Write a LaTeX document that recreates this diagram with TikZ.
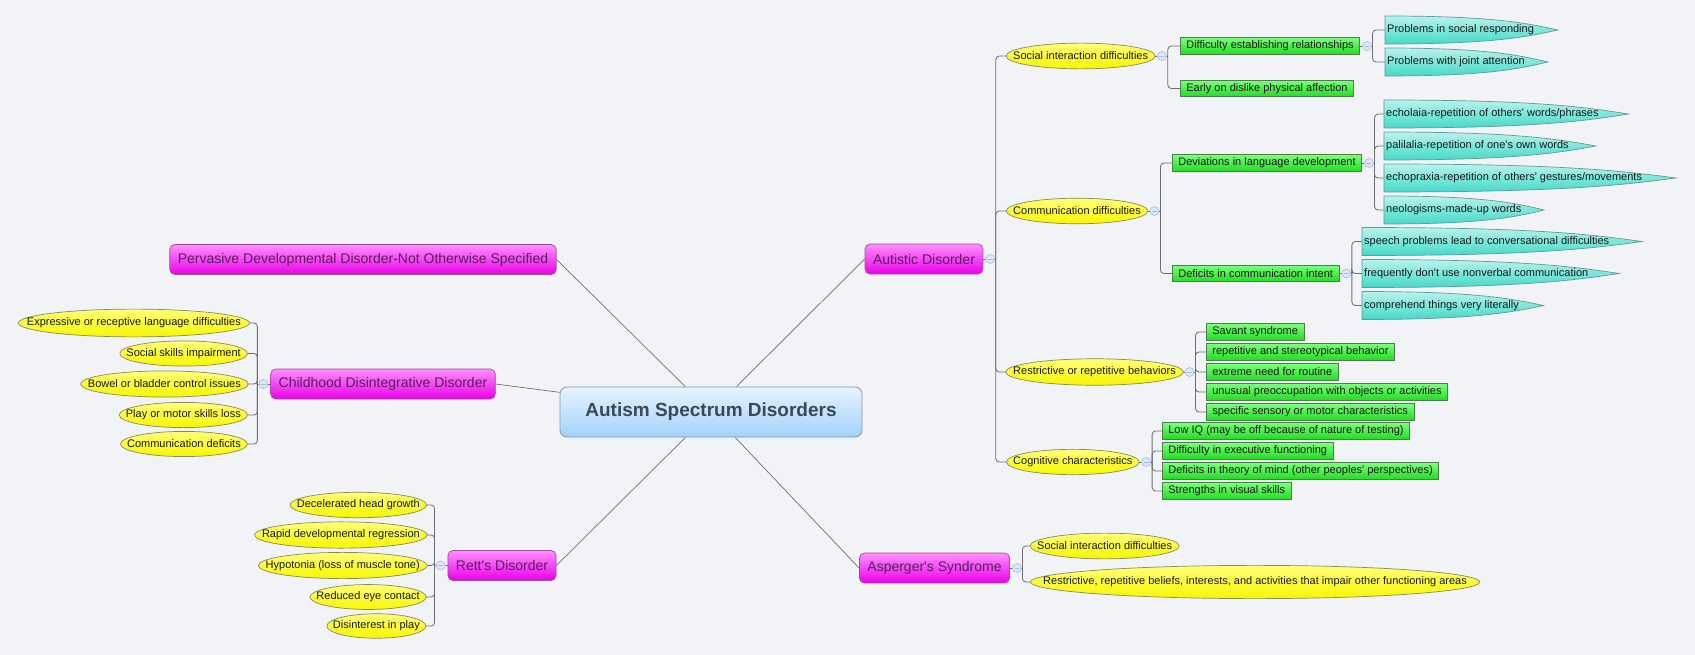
\documentclass[tikz,border=0pt]{standalone}
\usepackage{fontspec}
\setmainfont{Liberation Sans}
\usetikzlibrary{backgrounds,calc}

\definecolor{paper}{HTML}{F2F3F7}
\definecolor{wire}{HTML}{6E6E6E}
\definecolor{hubtop}{HTML}{E6F3FF}
\definecolor{hubbot}{HTML}{A3D2FA}
\definecolor{hubline}{HTML}{8796A6}
\definecolor{hubtext}{HTML}{3B4856}
\definecolor{pinktop}{HTML}{FF8FFF}
\definecolor{pinkbot}{HTML}{E800E8}
\definecolor{pinkline}{HTML}{9C4C9C}
\definecolor{pinktext}{HTML}{5A1E5C}
\definecolor{lemontop}{HTML}{FFFF7A}
\definecolor{lemonbot}{HTML}{F6F600}
\definecolor{lemonline}{HTML}{8A8A58}
\definecolor{limetop}{HTML}{7CFF7C}
\definecolor{limebot}{HTML}{20DC20}
\definecolor{limeline}{HTML}{4E7E4E}
\definecolor{aquatop}{HTML}{B8F3EC}
\definecolor{aquabot}{HTML}{44D9C8}
\definecolor{aqualine}{HTML}{5F9A95}
\definecolor{knobfill}{HTML}{DDE8F7}
\definecolor{knobline}{HTML}{A3BBDF}

\newcommand{\apos}{\textquotesingle}

\tikzset{
  hub/.style={draw=hubline, line width=0.8pt, rounded corners=7pt, top color=hubtop, bottom color=hubbot,
    minimum width=302pt, minimum height=50pt, font=\fontsize{19}{22}\selectfont\bfseries, text=hubtext},
  topic/.style={draw=pinkline, line width=0.7pt, rounded corners=5pt, top color=pinktop, bottom color=pinkbot,
    minimum height=30pt, inner xsep=8pt, font=\fontsize{14}{16}\selectfont, text=pinktext},
  oval/.style={inner xsep=4pt, inner ysep=2pt, font=\fontsize{11}{13}\selectfont, text=black!90},
  tag/.style={draw=limeline, line width=0.7pt, top color=limetop, bottom color=limebot,
    minimum height=16.5pt, inner xsep=6pt, inner ysep=1pt, font=\fontsize{11}{13}\selectfont, text=black!90},
  flag/.style={inner xsep=2pt, inner ysep=1pt, font=\fontsize{11}{13}\selectfont, text=black!90},
  ovalfill/.style={draw=lemonline, line width=0.7pt, top color=lemontop, bottom color=lemonbot},
  flagfill/.style={draw=aqualine, line width=0.7pt, top color=aquatop, bottom color=aquabot},
  knob/.style={circle, draw=knobline, fill=knobfill, line width=0.6pt, minimum size=9pt, inner sep=0pt,
    path picture={\draw[knobline, line width=0.8pt] ([xshift=-2.4pt]path picture bounding box.center)
      -- ([xshift=2.4pt]path picture bounding box.center);}},
  branch/.style={draw=wire, line width=0.8pt, rounded corners=3.5pt},
  spoke/.style={draw=wire, line width=0.7pt},
}

\begin{document}
\begin{tikzpicture}[x=1pt, y=-1pt]
    \useasboundingbox (0,0) rectangle (1695,655);

    % Central topic
    \node[hub] (asd) at (711,412) {Autism Spectrum Disorders};

    % Main topics
    \node[topic] (pdd)  at (363,259.5) {Pervasive Developmental Disorder-Not Otherwise Specified};
    \node[topic] (cdd)  at (383,384) {Childhood Disintegrative Disorder};
    \node[topic] (rett) at (502,565.5) {Rett\apos s Disorder};
    \node[topic] (aut)  at (924,259) {Autistic Disorder};
    \node[topic] (asp)  at (934.5,568) {Asperger\apos s Syndrome};

    % Childhood Disintegrative Disorder
    \foreach \id/\yy/\txt in {lan/323/Expressive or receptive language difficulties,
        soc/353.5/Social skills impairment, bow/384/Bowel or bladder control issues,
        mot/415/Play or motor skills loss, com/444/Communication deficits}
        \node[oval, anchor=east] (cdd-\id) at (245,\yy) {\txt};

    % Rett's Disorder
    \foreach \id/\yy/\txt in {hea/505/Decelerated head growth, reg/535/Rapid developmental regression,
        hyp/565.5/Hypotonia (loss of muscle tone), eye/597/Reduced eye contact, pla/626/Disinterest in play}
        \node[oval, anchor=east] (rett-\id) at (424,\yy) {\txt};

    % Asperger's Syndrome
    \node[oval, anchor=west] (asp-soc) at (1033,546) {Social interaction difficulties};
    \node[oval, anchor=west] (asp-rep) at (1039,582) {Restrictive, repetitive beliefs, interests, and activities that impair other functioning areas};

    % Autistic Disorder
    \node[oval, anchor=west] (aut-soc) at (1009,56) {Social interaction difficulties};
    \node[oval, anchor=west] (aut-com) at (1009,211) {Communication difficulties};
    \node[oval, anchor=west] (aut-rep) at (1009,372) {Restrictive or repetitive behaviors};
    \node[oval, anchor=west] (aut-cog) at (1009,462) {Cognitive characteristics};

    \node[tag, anchor=west] (soc-rel) at (1180,46) {Difficulty establishing relationships};
    \node[tag, anchor=west] (soc-aff) at (1180,88.5) {Early on dislike physical affection};
    \node[tag, anchor=west] (com-dev) at (1172,163) {Deviations in language development};
    \node[tag, anchor=west] (com-int) at (1172,273.5) {Deficits in communication intent};

    \foreach \id/\yy/\txt in {sav/332/Savant syndrome, ste/352/repetitive and stereotypical behavior,
        rou/372/extreme need for routine, obj/392/unusual preoccupation with objects or activities,
        sen/412/specific sensory or motor characteristics}
        \node[tag, anchor=west] (rep-\id) at (1206,\yy) {\txt};

    \foreach \id/\yy/\txt in {iq/431/Low IQ (may be off because of nature of testing),
        exe/451/Difficulty in executive functioning,
        tom/471/Deficits in theory of mind (other peoples\apos\ perspectives),
        vis/491/Strengths in visual skills}
        \node[tag, anchor=west] (cog-\id) at (1162,\yy) {\txt};

    \foreach \id/\yy/\txt in {res/30/Problems in social responding, att/62/Problems with joint attention}
        \node[flag, anchor=west] (rel-\id) at (1385,\yy) {\txt};

    \foreach \id/\yy/\txt in {ech/114/{echolaia-repetition of others\apos\ words/phrases},
        pal/146/palilalia-repetition of one\apos s own words,
        pra/178/{echopraxia-repetition of others\apos\ gestures/movements},
        neo/210/neologisms-made-up words}
        \node[flag, anchor=west] (dev-\id) at (1384,\yy) {\txt};

    \foreach \id/\yy/\txt in {spe/241.5/speech problems lead to conversational difficulties,
        non/273.5/frequently don\apos t use nonverbal communication,
        lit/305.5/comprehend things very literally}
        \node[flag, anchor=west] (int-\id) at (1362,\yy) {\txt};

    % Collapse knobs
    \foreach \p in {aut,asp,soc-rel,com-dev,com-int} {
        \node[knob] (\p-k) at ([xshift=7pt]\p.east) {};
        \coordinate (\p-b) at ([xshift=5.5pt]\p-k.center);
    }
    \foreach \p in {aut-soc,aut-com,aut-rep,aut-cog} {
        \node[knob] (\p-k) at ([xshift=9.5pt]\p.east) {};
        \coordinate (\p-b) at ([xshift=6pt]\p-k.center);
    }
    \foreach \p in {cdd,rett} {
        \node[knob] (\p-k) at ([xshift=-7pt]\p.west) {};
        \coordinate (\p-b) at ([xshift=-6pt]\p-k.center);
    }

    \begin{pgfonlayer}{background}
        \fill[paper] (0,0) rectangle (1695,655);

        % Spokes
        \foreach \t/\a in {pdd/east, cdd/east, rett/east, aut/west, asp/west}
            \draw[spoke] (asd) -- (\t.\a);

        % Branches
        \foreach \p/\kids in {aut/{aut-soc,aut-com,aut-rep,aut-cog}, asp/{asp-soc,asp-rep},
            aut-soc/{soc-rel,soc-aff}, aut-com/{com-dev,com-int},
            aut-rep/{rep-sav,rep-ste,rep-rou,rep-obj,rep-sen},
            aut-cog/{cog-iq,cog-exe,cog-tom,cog-vis}, soc-rel/{rel-res,rel-att},
            com-dev/{dev-ech,dev-pal,dev-pra,dev-neo}, com-int/{int-spe,int-non,int-lit}} {
            \draw[branch] (\p.east) -- (\p-b);
            \foreach \k in \kids
                \draw[branch] (\p-b) |- (\k.west);
        }
        \foreach \p/\kids in {cdd/{cdd-lan,cdd-soc,cdd-bow,cdd-mot,cdd-com},
            rett/{rett-hea,rett-reg,rett-hyp,rett-eye,rett-pla}} {
            \draw[branch] (\p.west) -- (\p-b);
            \foreach \k in \kids
                \draw[branch] (\p-b) |- (\k.east);
        }

        % Ovals
        \foreach \o in {aut-soc,aut-com,aut-rep,aut-cog,asp-soc,asp-rep,cdd-lan,cdd-soc,cdd-bow,
            cdd-mot,cdd-com,rett-hea,rett-reg,rett-hyp,rett-eye,rett-pla}
            \path[ovalfill] let \p1=(\o.center), \p2=(\o.east), \n1={1.04*(\x2-\x1)} in
                (\p1) ellipse [x radius={\n1*1pt}, y radius={11pt+0.025pt*\n1}];

        % Flags
        \foreach \o in {rel-res,rel-att,dev-ech,dev-pal,dev-pra,dev-neo,int-spe,int-non,int-lit}
            \path[flagfill] let \p1=(\o.west), \p2=(\o.east), \n1={\x2+8pt+0.09*(\x2-\x1)},
                \n2={\n1-\x1} in
                (\x1,{\y1+14pt}) .. controls ({\x1+0.62*\n2},{\y1+14pt}) and ({\n1-0.18*\n2},{\y1+7pt})
                .. (\n1,\y1) .. controls ({\n1-0.18*\n2},{\y1-7pt}) and ({\x1+0.62*\n2},{\y1-14pt})
                .. (\x1,{\y1-14pt}) -- cycle;
    \end{pgfonlayer}
\end{tikzpicture}
\end{document}
